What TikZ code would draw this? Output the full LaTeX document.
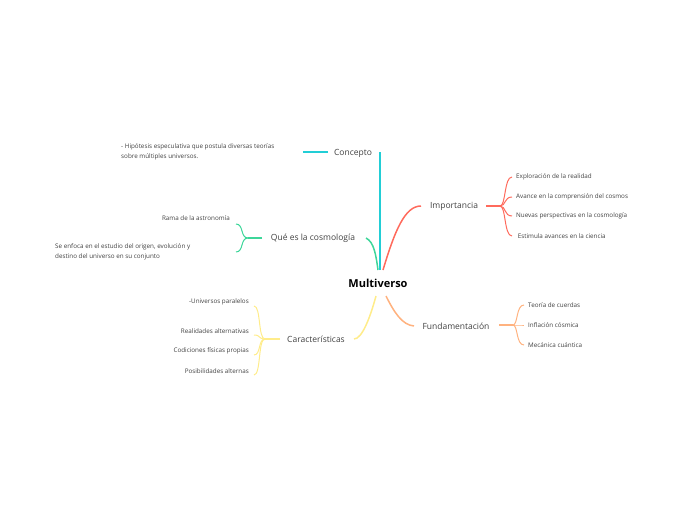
\documentclass[tikz,border=0pt]{standalone}
\usepackage{fontspec}
\setmainfont{Open Sans}
\begin{document}
\begin{tikzpicture}[x=1pt,y=-1pt,
  br/.style={line width=1.5pt},
  sub/.style={line width=1pt},
  lbl/.style={font=\fontsize{8.5}{10}\selectfont,text=black!75,inner sep=1pt},
  leaf/.style={font=\fontsize{6.3}{9.5}\selectfont,text=black!75,inner sep=1pt,align=left}]
\definecolor{ccy}{HTML}{22CED6}
\definecolor{cre}{HTML}{FF6A5C}
\definecolor{cgr}{HTML}{3DD69A}
\definecolor{cye}{HTML}{FFEC8A}
\definecolor{cor}{HTML}{FFB27F}
\useasboundingbox (0,0) rectangle (697,520);
\node[font=\bfseries\fontsize{11}{13}\selectfont] (m) at (378,283) {Multiverso};
% Concepto
\node[lbl] (c) at (353,153) {Concepto};
\coordinate (ct) at (380,270);
\coordinate (cc) at (380,152);
\draw[br,ccy] (ct) -- (cc);
\coordinate (ch1) at (328,152); \coordinate (ch2) at (303,152);
\draw[br,ccy] (ch1) -- (ch2);
\node[leaf,anchor=west] (c1) at (120,152) {- Hipótesis especulativa que postula diversas teorías\\sobre múltiples universos.};
% Importancia
\node[lbl] (i) at (454,206) {Importancia};
\coordinate (it) at (383,270); \coordinate (ie) at (421,206);
\draw[br,cre] (it) .. controls (395,230) and (405,206) .. (ie);
\coordinate (ih) at (486,206); \coordinate (ihe) at (500,206);
\draw[br,cre] (ih) -- (ihe);
\foreach \y/\t [count=\k] in {177/Exploración de la realidad,197/Avance en la comprensión del cosmos,216/Nuevas perspectivas en la cosmología,236/{\ Estimula avances en la ciencia}}{
  \node[leaf,anchor=west] (i\k) at (515,\y) {\t};
  \draw[sub,cre] (ihe) .. controls (506,206) and (504,\y) .. (512,\y);
}
% Cosmologia
\node[lbl] (q) at (313,238) {Qué es la cosmología};
\coordinate (qt) at (378,270); \coordinate (qe) at (366,238);
\draw[br,cgr] (qt) .. controls (376,255) and (374,242) .. (qe);
\coordinate (qh) at (262,238); \coordinate (qhe) at (248,238);
\draw[br,cgr] (qh) -- (qhe);
\draw[sub,cgr] (qhe) .. controls (240,238) and (244,224) .. (236,224);
\draw[sub,cgr] (qhe) .. controls (240,238) and (244,252) .. (236,252);
\node[leaf,anchor=east] (q1) at (231,218) {Rama de la astronomía};
\node[leaf,anchor=west] (q2) at (54,252) {Se enfoca en el estudio del origen, evolución y\\destino del universo en su conjunto};
% Caracteristicas
\node[lbl] (k) at (316,339) {Características};
\coordinate (kt) at (376,296); \coordinate (ke) at (354,339);
\draw[br,cye] (kt) .. controls (370,318) and (362,339) .. (ke);
\coordinate (kh) at (280,339); \coordinate (khe) at (265,339);
\draw[br,cye] (kh) -- (khe);
\foreach \y/\t [count=\k] in {302/-Universos paralelos,331/Realidades alternativas,351/Codiciones físicas propias,371/Posibilidades alternas}{
  \node[leaf,anchor=east] (k\k) at (250,\y) {\t};
  \draw[sub,cye] (khe) .. controls (258,339) and (261,\y+4) .. (254,\y+4);
}
% Fundamentacion
\node[lbl] (f) at (456,326) {Fundamentación};
\coordinate (ft) at (386,296); \coordinate (fe) at (414,326);
\draw[br,cor] (ft) .. controls (394,312) and (402,325) .. (fe);
\coordinate (fh) at (499,325); \coordinate (fhe) at (513,325);
\draw[br,cor] (fh) -- (fhe);
\foreach \y/\t [count=\k] in {305/Teoría de cuerdas,325/Inflación cósmica,345/Mecánica cuántica}{
  \node[leaf,anchor=west] (f\k) at (527,\y) {\t};
  \draw[sub,cor] (fhe) .. controls (518,325) and (516,\y) .. (524,\y);
}
\end{tikzpicture}
\end{document}
